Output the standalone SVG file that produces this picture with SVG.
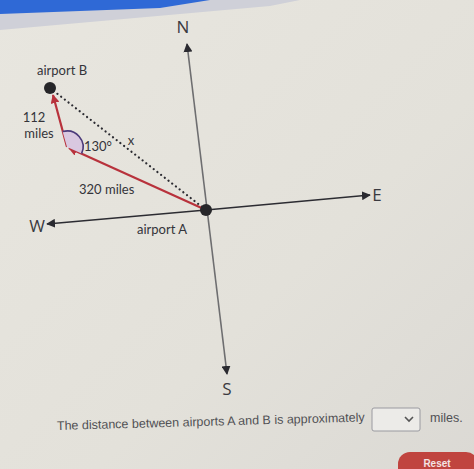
<svg xmlns="http://www.w3.org/2000/svg" width="474" height="469" viewBox="0 0 474 469">
<defs>
<linearGradient id="bg" x1="0" y1="0" x2="1" y2="1">
<stop offset="0" stop-color="#e8e6df"/>
<stop offset="0.6" stop-color="#e3e1da"/>
<stop offset="1" stop-color="#dbd9d4"/>
</linearGradient>
<marker id="ah" viewBox="0 0 10 10" refX="9" refY="5" markerWidth="9" markerHeight="9" markerUnits="userSpaceOnUse" orient="auto-start-reverse">
<path d="M0,0 L10,5 L0,10 z" fill="#2a2a30"/>
</marker>
<marker id="ahr" viewBox="0 0 10 10" refX="9" refY="5" markerWidth="9" markerHeight="9" markerUnits="userSpaceOnUse" orient="auto">
<path d="M0,0 L10,5 L0,10 z" fill="#b8323c"/>
</marker>
</defs>
<style>
.lbl{font-family:Lato,"Open Sans",sans-serif;font-size:13px;fill:#34343a}
.dir{font-family:"Open Sans",Lato,sans-serif;font-size:17px;fill:#3a3a40}
.q{font-family:"Liberation Sans",Arial,sans-serif;font-size:12.5px;fill:#505054}
.axis{stroke:#2c2c32;stroke-width:1.4;fill:none}
.vaxis{stroke:#6e6e70;stroke-width:1.6;fill:none}
.vec{stroke:#b8323c;stroke-width:2.2;fill:none}
</style>
<rect width="474" height="469" fill="url(#bg)"/>
<polygon points="0,0 300,0 270,6 0,30" fill="#cfd0d8"/>
<polygon points="0,0 210,0 160,8 0,14" fill="#2f69d6"/>
<g id="connectors">
<line class="vaxis" x1="187" y1="44" x2="227" y2="374" marker-start="url(#ah)" marker-end="url(#ah)"/>
<line class="axis" x1="206" y1="210" x2="370" y2="195" marker-end="url(#ah)"/>
<line class="axis" x1="206" y1="210" x2="47" y2="224" marker-end="url(#ah)"/>
<line x1="50" y1="88" x2="206" y2="210" stroke="#2c2c32" stroke-width="2.2" stroke-dasharray="0.1 4.6" stroke-linecap="round"/>
<line class="vec" x1="206" y1="210" x2="69" y2="148" marker-end="url(#ahr)"/>
<line class="vec" x1="67" y1="147" x2="53" y2="95" marker-end="url(#ahr)"/>
</g>
<g id="angle">
<path d="M67,147 L62.6,131.6 A16,16 0 0 1 81.6,153.6 Z" fill="#d9c8e0" stroke="none"/>
<path d="M62.6,131.6 A16,16 0 0 1 81.6,153.6" fill="none" stroke="#4b3a7a" stroke-width="1.6"/>
<text class="lbl" x="84" y="151">130°</text>
</g>
<g id="airportA">
<circle cx="206" cy="210" r="6" fill="#262629"/>
<text class="lbl" x="137" y="234">airport A</text>
</g>
<g id="airportB">
<circle cx="50" cy="88" r="6" fill="#262629"/>
<text class="lbl" x="37" y="75">airport B</text>
</g>
<g id="labels">
<text class="lbl" x="34" y="122" text-anchor="middle">112</text>
<text class="lbl" x="39" y="138" text-anchor="middle">miles</text>
<text class="lbl" x="131" y="145" text-anchor="middle">x</text>
<text class="lbl" x="79" y="194">320 miles</text>
<text class="dir" x="183" y="33" text-anchor="middle">N</text>
<text class="dir" x="227" y="395" text-anchor="middle">S</text>
<text class="dir" x="377" y="201" text-anchor="middle">E</text>
<text class="dir" x="37" y="232" text-anchor="middle">W</text>
</g>
<g id="question">
<text class="q" x="57" y="430" transform="rotate(-1.6 57 430)">The distance between airports A and B is approximately</text>
<rect x="372" y="408" width="48" height="23" rx="2" fill="#ecebe8" stroke="#9a9aa0" stroke-width="1"/>
<path d="M405,417 L409,421 L413,417" fill="none" stroke="#555" stroke-width="1.6"/>
<text class="q" x="430" y="422">miles.</text>
<rect x="398" y="452" width="80" height="30" rx="12" fill="#c0443f"/>
<text x="437" y="467" text-anchor="middle" font-family="Liberation Sans,Arial,sans-serif" font-size="10" font-weight="bold" fill="#f3e3e3">Reset</text>
</g>
</svg>
